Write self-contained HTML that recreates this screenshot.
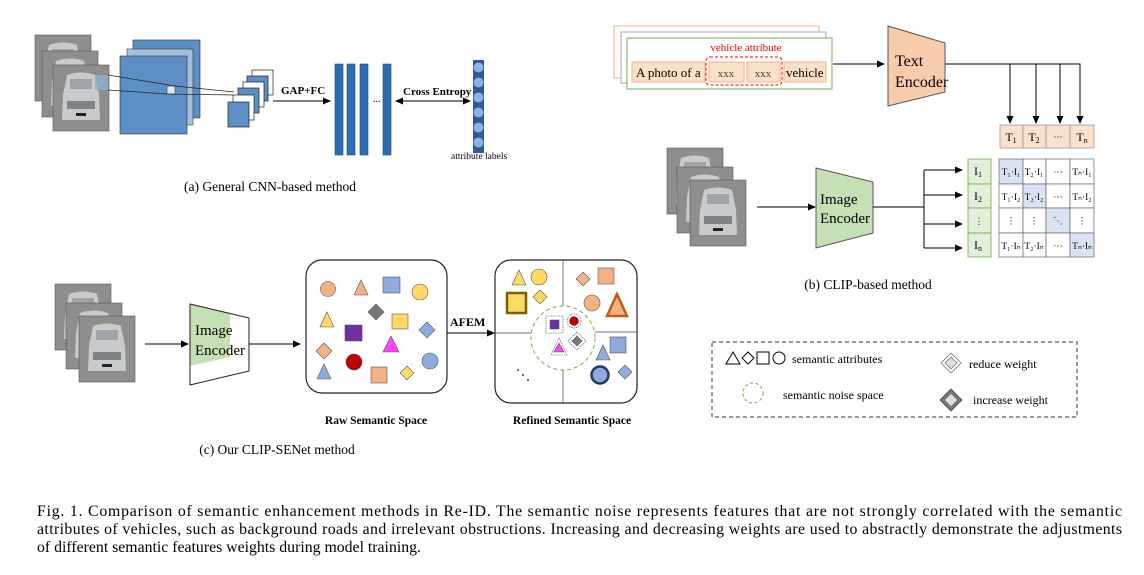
<!DOCTYPE html>
<html><head><meta charset="utf-8"><style>
html,body{margin:0;padding:0;background:#fff}
svg{display:block}
text{font-family:"Liberation Serif",serif}
</style></head><body>
<svg width="1144" height="575" viewBox="0 0 1144 575" xmlns="http://www.w3.org/2000/svg">
<defs>
<marker id="ar" markerWidth="8" markerHeight="8" refX="7" refY="4" orient="auto" markerUnits="userSpaceOnUse"><path d="M0,0.5 L8,4 L0,7.5 z" fill="#000"/></marker>
<marker id="al" markerWidth="8" markerHeight="8" refX="1" refY="4" orient="auto" markerUnits="userSpaceOnUse"><path d="M8,0.5 L0,4 L8,7.5 z" fill="#000"/></marker>
<g id="car">
<rect x="0" y="0" width="56" height="66" fill="#8e8e8c" stroke="#555" stroke-width="0.6"/>
<path d="M14,10 Q28,5 42,10 L46,30 L47,55 L9,55 L10,30 z" fill="#c8cacc"/>
<rect x="17" y="14" width="22" height="10" fill="#9ea4a8"/>
<rect x="14" y="36" width="28" height="8" fill="#7e8488"/>
<rect x="23" y="48" width="10" height="3" fill="#222"/>
</g>
</defs>

<!-- (a) -->
<use href="#car" x="35" y="35"/>
<use href="#car" x="42" y="51"/>
<use href="#car" x="53" y="65"/>
<rect x="95" y="75" width="13" height="15" fill="#8fb0d4" opacity="0.8"/>
<rect x="133" y="40" width="67" height="78" fill="#5b8fc5" stroke="#333" stroke-width="0.6"/>
<rect x="127" y="49" width="66" height="76" fill="#a8c0da" stroke="#333" stroke-width="0.6" opacity="0.95"/>
<rect x="120" y="56" width="67" height="78" fill="#5b8fc5" stroke="#333" stroke-width="0.6"/>
<rect x="167" y="86" width="8" height="8" fill="#dbe6f0" stroke="#333" stroke-width="0.5"/>
<line x1="108" y1="75" x2="175" y2="86" stroke="#222" stroke-width="0.7"/>
<line x1="108" y1="90" x2="167" y2="94" stroke="#222" stroke-width="0.7"/>
<line x1="175" y1="86" x2="234" y2="92" stroke="#222" stroke-width="0.7"/>
<line x1="167" y1="94" x2="234" y2="95" stroke="#222" stroke-width="0.7"/>
<g stroke="#222" stroke-width="0.7">
<rect x="252" y="70" width="21" height="25" fill="#fff"/>
<rect x="247" y="76" width="21" height="25" fill="#5b8fc5"/>
<rect x="243" y="82" width="21" height="25" fill="#fff"/>
<rect x="238" y="88" width="21" height="25" fill="#5b8fc5"/>
<rect x="233" y="95" width="21" height="25" fill="#fff"/>
<rect x="228" y="102" width="21" height="25" fill="#5b8fc5"/>
</g>
<line x1="273" y1="101" x2="330" y2="101" stroke="#000" stroke-width="1" marker-end="url(#ar)"/>
<text x="281" y="94" font-size="11" font-weight="bold">GAP+FC</text>
<g fill="#2e6db4" stroke="#1d4a80" stroke-width="0.6">
<rect x="335" y="64" width="8" height="91"/><rect x="347" y="64" width="8" height="91"/>
<rect x="360" y="64" width="8" height="91"/><rect x="383" y="64" width="8" height="91"/>
</g>
<text x="373" y="102" font-size="10">...</text>
<line x1="396" y1="101" x2="470" y2="101" stroke="#000" stroke-width="1" marker-end="url(#ar)" marker-start="url(#al)"/>
<text x="403" y="95" font-size="11" font-weight="bold">Cross Entropy</text>
<rect x="473" y="60" width="11" height="93" fill="#2e5a9c"/>
<g fill="#8fb0e0" stroke="#1d3a70" stroke-width="0.5">
<circle cx="478.5" cy="67.5" r="5.3"/><circle cx="478.5" cy="82.5" r="5.3"/><circle cx="478.5" cy="97.5" r="5.3"/>
<circle cx="478.5" cy="112.5" r="5.3"/><circle cx="478.5" cy="127.5" r="5.3"/><circle cx="478.5" cy="142.5" r="5.3"/>
</g>
<text x="451" y="159" font-size="9.5">attribute labels</text>
<text x="270" y="191" font-size="13.5" text-anchor="middle">(a) General CNN-based method</text>

<!-- (b) -->
<rect x="614" y="26" width="205" height="52" fill="#fff" stroke="#f4b183" stroke-width="1"/>
<rect x="621" y="32" width="205" height="51" fill="#fff" stroke="#aaa" stroke-width="1"/>
<rect x="627" y="38" width="205" height="51" fill="#fff" stroke="#70ad47" stroke-width="1"/>
<text x="746" y="51" font-size="11" fill="#e00" text-anchor="middle">vehicle attribute</text>
<g fill="#fbe0c8" stroke="#f4b183" stroke-width="1">
<rect x="632" y="62" width="73" height="20"/><rect x="709" y="62" width="35" height="20"/>
<rect x="747" y="62" width="33" height="20"/><rect x="784" y="62" width="42" height="20"/>
</g>
<rect x="706" y="57" width="76" height="28" rx="4" fill="none" stroke="#e00" stroke-width="1" stroke-dasharray="3,2"/>
<text x="636" y="77" font-size="13">A photo of a</text>
<text x="726" y="77" font-size="11" text-anchor="middle" fill="#444">xxx</text>
<text x="763" y="77" font-size="11" text-anchor="middle" fill="#444">xxx</text>
<text x="786" y="77" font-size="13">vehicle</text>
<line x1="833" y1="64" x2="884" y2="64" stroke="#000" stroke-width="1" marker-end="url(#ar)"/>
<polygon points="888,26 945,43 945,92 888,106" fill="#f8cbad" stroke="#555" stroke-width="1"/>
<text x="895" y="66" font-size="16">Text</text>
<text x="895" y="87" font-size="16">Encoder</text>
<polyline points="945,64 1080,64 1080,123" fill="none" stroke="#000" stroke-width="1" marker-end="url(#ar)"/>
<line x1="1010" y1="64" x2="1010" y2="123" stroke="#000" stroke-width="1" marker-end="url(#ar)"/>
<line x1="1036" y1="64" x2="1036" y2="123" stroke="#000" stroke-width="1" marker-end="url(#ar)"/>
<line x1="1060" y1="64" x2="1060" y2="123" stroke="#000" stroke-width="1" marker-end="url(#ar)"/>
<g fill="#fbe0cc" stroke="#999" stroke-width="0.8">
<rect x="1000" y="125" width="23" height="23"/><rect x="1023" y="125" width="23" height="23"/>
<rect x="1046" y="125" width="24" height="23"/><rect x="1070" y="125" width="24" height="23"/>
</g>
<g font-size="12" text-anchor="middle">
<text x="1011" y="141">T<tspan font-size="8" dy="2">1</tspan></text>
<text x="1034" y="141">T<tspan font-size="8" dy="2">2</tspan></text>
<text x="1058" y="140" font-size="9">···</text>
<text x="1082" y="141">T<tspan font-size="8" dy="2">n</tspan></text>
</g>
<use href="#car" x="667" y="148"/>
<use href="#car" x="677" y="167"/>
<use href="#car" x="690" y="180"/>
<line x1="757" y1="207" x2="815" y2="207" stroke="#000" stroke-width="1" marker-end="url(#ar)"/>
<polygon points="816,168 873,182 873,233 816,248" fill="#c5e0b4" stroke="#555" stroke-width="1"/>
<text x="820" y="204" font-size="15">Image</text>
<text x="820" y="223" font-size="15">Encoder</text>
<line x1="873" y1="207" x2="924" y2="207" stroke="#000" stroke-width="1"/>
<line x1="924" y1="170" x2="924" y2="248" stroke="#000" stroke-width="1"/>
<g stroke="#000" stroke-width="1">
<line x1="924" y1="170" x2="962" y2="170" marker-end="url(#ar)"/>
<line x1="924" y1="195" x2="962" y2="195" marker-end="url(#ar)"/>
<line x1="924" y1="224" x2="962" y2="224" marker-end="url(#ar)"/>
<line x1="924" y1="248" x2="962" y2="248" marker-end="url(#ar)"/>
</g>
<g fill="#e2efda" stroke="#70ad47" stroke-width="0.8">
<rect x="968" y="159" width="23" height="25"/><rect x="968" y="184" width="23" height="24"/>
<rect x="968" y="208" width="23" height="25"/><rect x="968" y="233" width="23" height="24"/>
</g>
<g font-size="12" text-anchor="middle">
<text x="978" y="175">I<tspan font-size="8" dy="2">1</tspan></text>
<text x="978" y="200">I<tspan font-size="8" dy="2">2</tspan></text>
<text x="979" y="224" font-size="9">⋮</text>
<text x="978" y="249">I<tspan font-size="8" dy="2">n</tspan></text>
</g>
<g stroke="#666" stroke-width="0.7" fill="#fff">
<rect x="999" y="159" width="24" height="25" fill="#dae3f3"/><rect x="1023" y="159" width="23" height="25"/><rect x="1046" y="159" width="24" height="25"/><rect x="1070" y="159" width="24" height="25"/>
<rect x="999" y="184" width="24" height="24"/><rect x="1023" y="184" width="23" height="24" fill="#dae3f3"/><rect x="1046" y="184" width="24" height="24"/><rect x="1070" y="184" width="24" height="24"/>
<rect x="999" y="208" width="24" height="25"/><rect x="1023" y="208" width="23" height="25"/><rect x="1046" y="208" width="24" height="25" fill="#dae3f3"/><rect x="1070" y="208" width="24" height="25"/>
<rect x="999" y="233" width="24" height="24"/><rect x="1023" y="233" width="23" height="24"/><rect x="1046" y="233" width="24" height="24"/><rect x="1070" y="233" width="24" height="24" fill="#dae3f3"/>
</g>
<g font-size="9.5" text-anchor="middle">
<text x="1011" y="175">T₁·I₁</text><text x="1034" y="175">T₂·I₁</text><text x="1058" y="175">···</text><text x="1082" y="175">Tₙ·I₁</text>
<text x="1011" y="200">T₁·I₂</text><text x="1034" y="200">T₂·I₂</text><text x="1058" y="200">···</text><text x="1082" y="200">Tₙ·I₂</text>
<text x="1011" y="224">⋮</text><text x="1034" y="224">⋮</text><text x="1058" y="224">⋱</text><text x="1082" y="224">⋮</text>
<text x="1011" y="249">T₁·Iₙ</text><text x="1034" y="249">T₂·Iₙ</text><text x="1058" y="249">···</text><text x="1082" y="249">Tₙ·Iₙ</text>
</g>
<text x="868" y="289" font-size="13.5" text-anchor="middle">(b) CLIP-based method</text>

<!-- (c) -->
<use href="#car" x="55" y="284"/>
<use href="#car" x="66" y="303"/>
<use href="#car" x="79" y="316"/>
<line x1="145" y1="344" x2="188" y2="344" stroke="#000" stroke-width="1" marker-end="url(#ar)"/>
<polygon points="190,304 230,313 230,357 190,366" fill="#c5e0b4"/>
<polygon points="190,304 249,318 249,371 190,385" fill="none" stroke="#222" stroke-width="1"/>
<text x="195" y="335" font-size="15">Image</text>
<text x="195" y="355" font-size="15">Encoder</text>
<line x1="249" y1="344" x2="300" y2="344" stroke="#000" stroke-width="1" marker-end="url(#ar)"/>

<rect x="306" y="260" width="141" height="133" rx="16" fill="#fff" stroke="#222" stroke-width="1.2"/>
<g stroke="#555" stroke-width="0.6">
<circle cx="328" cy="289" r="7.5" fill="#f4b183"/>
<polygon points="361,280 368,295 354,295" fill="#f4b183"/>
<rect x="383" y="277" width="17" height="16" fill="#8faadc"/>
<circle cx="420" cy="292" r="8" fill="#ffd966"/>
<polygon points="327,312 334,327 320,327" fill="#ffd966"/>
<polygon points="376,304 384,312 376,320 368,312" fill="#777"/>
<rect x="392" y="314" width="16" height="15" fill="#ffd966"/>
<rect x="345" y="325" width="17" height="16" fill="#7030a0"/>
<polygon points="427,322 435,330 427,338 419,330" fill="#8faadc"/>
<polygon points="391,336 399,352 383,352" fill="#ff40ff"/>
<polygon points="324,343 332,351 324,359 316,351" fill="#f4b183"/>
<circle cx="354" cy="362" r="8" fill="#c00000"/>
<circle cx="430" cy="361" r="8" fill="#8faadc"/>
<polygon points="324,364 331,379 317,379" fill="#8faadc"/>
<rect x="371" y="367" width="16" height="16" fill="#f4b183"/>
<polygon points="407,366 414,373 407,380 400,373" fill="#ffd966"/>
</g>
<line x1="447" y1="333" x2="494" y2="333" stroke="#000" stroke-width="1" marker-end="url(#ar)"/>
<text x="450" y="326" font-size="12" font-weight="bold">AFEM</text>

<rect x="495" y="260" width="142" height="143" rx="16" fill="#fff" stroke="#222" stroke-width="1.2"/>
<g stroke="#444" stroke-width="0.7">
<line x1="563" y1="260" x2="563" y2="306"/><line x1="563" y1="370" x2="563" y2="403"/>
<line x1="495" y1="333" x2="531" y2="333"/><line x1="595" y1="332" x2="637" y2="332"/>
</g>
<circle cx="563" cy="338" r="32" fill="none" stroke="#70ad47" stroke-width="1" stroke-dasharray="4,3"/>
<g stroke="#555" stroke-width="0.6">
<polygon points="519,270 526,285 512,285" fill="#ffd966"/>
<circle cx="539" cy="277" r="8" fill="#ffd966"/>
<rect x="507" y="293" width="19" height="20" fill="#ffd966" stroke="#7f6000" stroke-width="2.5"/>
<polygon points="540,290 547,297 540,304 533,297" fill="#ffd966"/>
<polygon points="583,272 590,279 583,286 576,279" fill="#f4b183"/>
<rect x="598" y="268" width="16" height="16" fill="#f4b183"/>
<circle cx="592" cy="303" r="8" fill="#f4b183"/>
<polygon points="617,294 627,316 607,316" fill="#f4b183" stroke="#c55a11" stroke-width="2.5"/>
<rect x="550" y="320" width="9" height="9" fill="#7030a0"/>
<circle cx="574" cy="321" r="4.5" fill="#c00000"/>
<polygon points="577,336 582,341 577,346 572,341" fill="#777"/>
<polygon points="559,343 564,352 554,352" fill="#ff40ff"/>
<polygon points="603,345 610,360 596,360" fill="#8faadc"/>
<rect x="610" y="337" width="16" height="16" fill="#8faadc"/>
<circle cx="600" cy="375" r="8.5" fill="#8faadc" stroke="#203864" stroke-width="2.5"/>
<polygon points="625,365 632,372 625,379 618,372" fill="#8faadc"/>
</g>
<g fill="none" stroke="#444" stroke-width="0.6" stroke-dasharray="1.5,1">
<rect x="546" y="316" width="17" height="17"/><circle cx="574" cy="321" r="7"/>
<polygon points="577,332 586,341 577,350 568,341"/><polygon points="559,338 567,355 551,355"/>
</g>
<g fill="#000"><circle cx="518" cy="370" r="0.9"/><circle cx="523" cy="375" r="0.9"/><circle cx="528" cy="380" r="0.9"/></g>
<text x="376" y="424" font-size="11.5" font-weight="bold" text-anchor="middle">Raw Semantic Space</text>
<text x="572" y="424" font-size="11.5" font-weight="bold" text-anchor="middle">Refined Semantic Space</text>
<text x="277" y="454" font-size="13.5" text-anchor="middle">(c) Our CLIP-SENet method</text>

<!-- legend -->
<rect x="712" y="342" width="365" height="75" fill="none" stroke="#333" stroke-width="1" stroke-dasharray="4,3"/>
<g fill="none" stroke="#000" stroke-width="1">
<polygon points="733,352 740,364 726,364"/>
<polygon points="748,352 754,358 748,364 742,358"/>
<rect x="757" y="352" width="12" height="12"/>
<circle cx="779" cy="358" r="6"/>
</g>
<text x="792" y="363" font-size="12">semantic attributes</text>
<circle cx="753" cy="393" r="10" fill="none" stroke="#70ad47" stroke-dasharray="3,2.5"/>
<text x="783" y="399" font-size="12">semantic noise space</text>
<polygon points="951,353 961,363 951,373 941,363" fill="#fff" stroke="#666" stroke-width="0.7"/>
<polygon points="951,357 957,363 951,369 945,363" fill="#ddd" stroke="#666" stroke-width="0.7"/>
<text x="969" y="368" font-size="12">reduce weight</text>
<polygon points="951,389 962,400 951,411 940,400" fill="#777" stroke="#333" stroke-width="0.7"/>
<polygon points="951,394 957,400 951,406 945,400" fill="#ddd"/>
<text x="973" y="404" font-size="12">increase weight</text>

<!-- caption -->
<text x="37" y="516" font-size="15.8" textLength="1085" lengthAdjust="spacing">Fig. 1.  Comparison of semantic enhancement methods in Re-ID. The semantic noise represents features that are not strongly correlated with the semantic</text>
<text x="37" y="534" font-size="15.8" textLength="1085" lengthAdjust="spacing">attributes of vehicles, such as background roads and irrelevant obstructions. Increasing and decreasing weights are used to abstractly demonstrate the adjustments</text>
<text x="37" y="552" font-size="15.8">of different semantic features weights during model training.</text>
</svg>
</body></html>
